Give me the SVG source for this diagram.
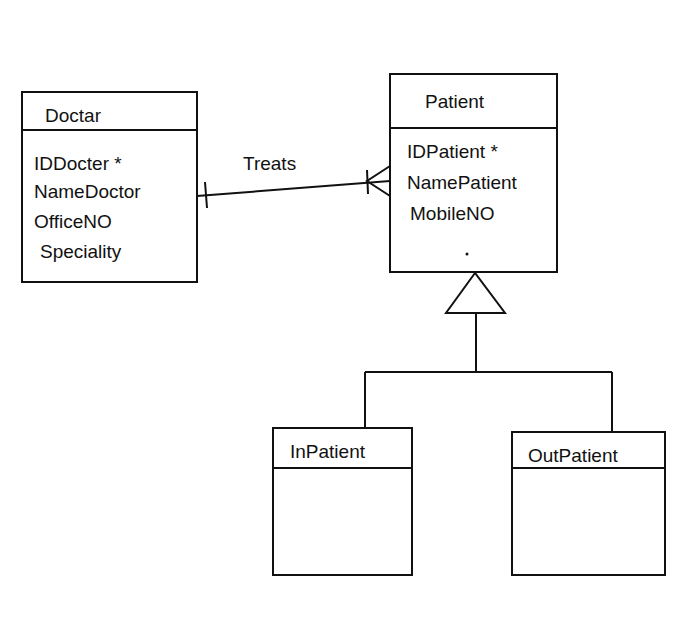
<svg xmlns="http://www.w3.org/2000/svg" width="700" height="630" viewBox="0 0 700 630">
<style>
.box{fill:none;stroke:#111;stroke-width:2}
.ln{fill:none;stroke:#111;stroke-width:2}
.t{font-family:"Liberation Sans",Arial,sans-serif;font-size:19px;fill:#111}
</style>
<rect width="700" height="630" fill="#fff"/>
<g id="doctor">
<rect class="box" x="22" y="92" width="175" height="190"/>
<line class="ln" x1="22" y1="130" x2="197" y2="130"/>
<text class="t" x="45" y="122">Doctar</text>
<text class="t" x="34" y="170">IDDocter *</text>
<text class="t" x="34" y="198">NameDoctor</text>
<text class="t" x="34" y="228">OfficeNO</text>
<text class="t" x="40" y="258">Speciality</text>
</g>
<g id="patient">
<rect class="box" x="390" y="74" width="167" height="198"/>
<line class="ln" x1="390" y1="128" x2="557" y2="128"/>
<text class="t" x="425" y="108">Patient</text>
<text class="t" x="407" y="158">IDPatient *</text>
<text class="t" x="407" y="189">NamePatient</text>
<text class="t" x="410" y="220">MobileNO</text>
<circle cx="467" cy="254" r="1.5" fill="#111"/>
</g>
<g id="inpatient">
<rect class="box" x="273" y="428" width="139" height="147"/>
<line class="ln" x1="273" y1="468" x2="412" y2="468"/>
<text class="t" x="290" y="458">InPatient</text>
</g>
<g id="outpatient">
<rect class="box" x="512" y="432" width="153" height="143"/>
<line class="ln" x1="512" y1="468" x2="665" y2="468"/>
<text class="t" x="528" y="462">OutPatient</text>
</g>
<g id="connectors">
<line class="ln" x1="197" y1="196" x2="390" y2="181"/>
<line class="ln" x1="205" y1="182" x2="207" y2="208"/>
<polyline class="ln" points="390,166 367,181 390,196"/>
<line class="ln" x1="367" y1="170" x2="368" y2="194"/>
<text class="t" x="243" y="170" font-size="17">Treats</text>
<polygon class="ln" points="475,273 446,313 505,313"/>
<line class="ln" x1="476" y1="313" x2="476" y2="372"/>
<line class="ln" x1="365" y1="372" x2="612" y2="372"/>
<line class="ln" x1="365" y1="372" x2="365" y2="428"/>
<line class="ln" x1="612" y1="372" x2="612" y2="432"/>
</g>
</svg>
